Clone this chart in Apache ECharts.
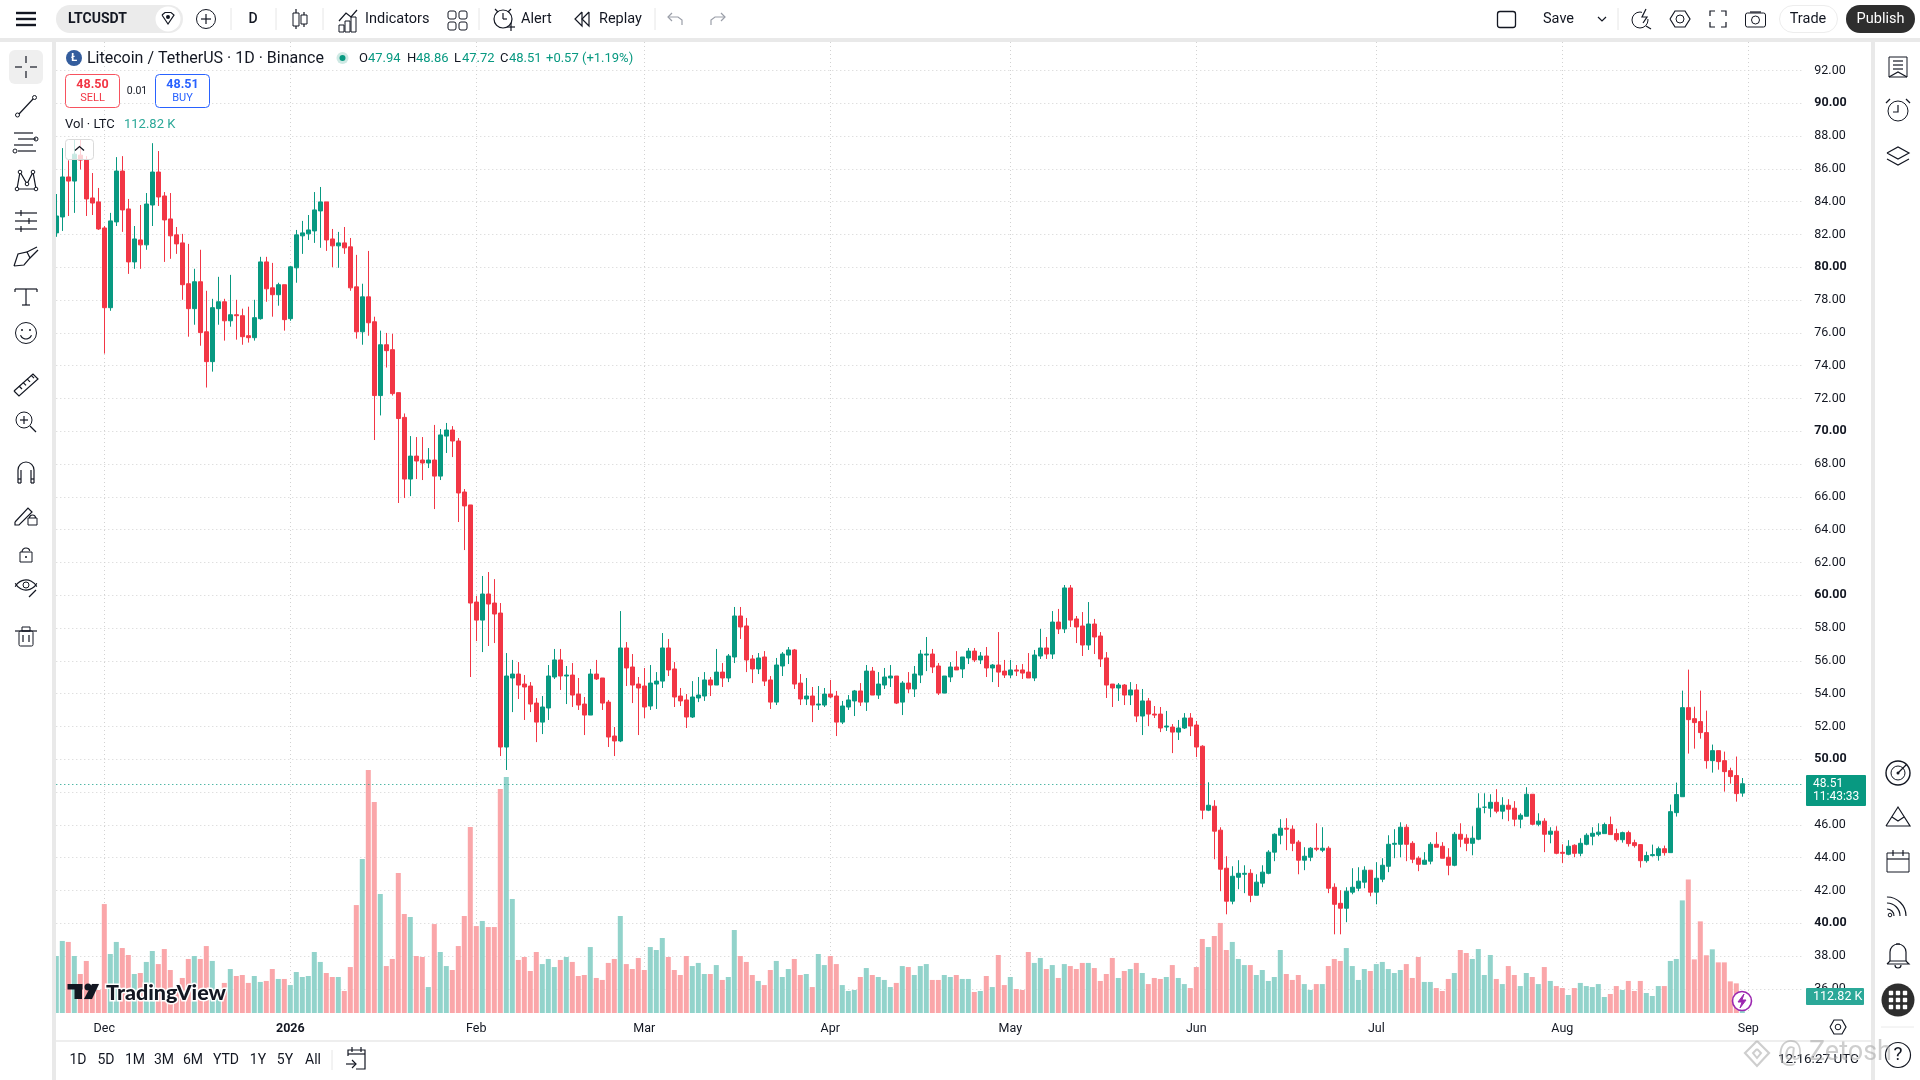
<!DOCTYPE html>
<html><head><meta charset="utf-8"><style>html,body{margin:0;padding:0;background:#fff}#c{width:1920px;height:1080px}</style>
<script src="https://cdn.jsdelivr.net/npm/echarts@6/dist/echarts.min.js"></script></head><body><div id="c"></div><script>
const startDate='2025-11-23';
const opens=[82.10,83.07,85.51,85.26,86.84,86.54,84.23,83.99,82.40,77.54,
82.77,85.87,83.56,80.33,81.67,81.37,83.80,85.81,84.35,82.95,
81.98,81.49,79.00,77.48,79.12,76.07,74.25,77.48,77.90,76.74,
77.11,77.05,75.83,75.71,76.87,80.33,78.75,78.33,78.94,76.87,
79.97,81.92,82.04,82.22,83.44,83.99,81.73,81.31,81.49,81.25,
78.81,76.07,78.20,76.68,72.18,75.28,74.98,72.36,70.85,67.09,
68.49,68.25,68.07,68.25,67.27,69.71,70.08,69.41,66.30,65.51,
59.59,58.49,60.08,59.53,58.92,50.75,54.96,55.20,54.59,54.47,
53.43,52.27,53.13,55.02,56.06,55.08,55.14,53.98,53.37,52.70,
55.20,54.96,53.49,51.42,51.12,56.79,55.63,54.59,54.47,53.25,
54.59,54.77,56.79,55.51,53.86,53.62,52.58,53.74,53.86,54.84,
54.53,55.32,54.96,56.24,58.74,58.13,56.12,55.51,56.24,54.84,
53.49,55.69,56.36,56.67,54.65,53.68,53.86,53.31,53.31,53.98,
53.86,52.27,53.19,53.56,54.17,53.49,55.38,53.92,54.53,54.96,
55.08,53.49,54.65,54.29,55.14,56.36,56.42,55.69,54.04,55.02,
55.63,55.51,56.18,56.60,56.06,56.30,55.57,55.75,55.38,55.14,
55.45,55.45,55.32,54.96,56.30,56.79,56.42,58.37,57.95,60.45,
58.56,58.13,56.97,58.25,57.52,56.18,54.59,54.35,54.53,53.92,
54.23,52.64,53.56,52.76,52.76,51.97,51.97,51.66,51.91,52.52,
52.09,50.80,46.90,47.14,45.68,43.36,41.35,42.81,42.99,43.05,
41.71,42.45,43.05,44.34,45.37,45.80,45.74,44.95,43.85,44.03,
44.58,44.46,44.58,42.20,41.22,40.92,41.90,42.14,42.51,43.24,
41.90,42.69,43.48,44.82,44.82,45.86,44.88,43.97,43.60,43.79,
44.82,44.70,44.03,43.54,45.43,45.19,44.88,45.13,47.08,47.02,
47.38,46.84,47.20,47.02,46.35,46.53,47.87,46.04,46.23,45.43,
45.62,44.33,44.21,44.76,44.27,44.82,45.31,45.43,45.47,46.02,
45.47,45.10,45.53,44.92,44.80,43.82,44.13,44.13,44.55,44.31,
46.75,47.72,53.15,52.48,52.30,51.63,49.92,50.53,49.92,49.31,
49.01,47.94];
const closes=[83.13,85.51,85.26,86.90,86.54,84.17,83.92,82.34,77.54,82.83,
85.87,83.50,80.33,81.73,81.37,83.86,85.81,84.29,82.89,81.92,
81.43,78.94,77.48,79.12,76.02,74.25,77.54,77.90,76.74,77.11,
77.05,75.77,75.71,76.93,80.33,78.69,78.33,78.94,76.81,80.03,
81.98,82.10,82.28,83.50,83.99,81.67,81.31,81.49,81.19,78.75,
76.07,78.20,76.62,72.18,75.28,74.92,72.30,70.78,67.09,68.49,
68.19,68.07,68.25,67.27,69.78,70.08,69.41,66.24,65.45,59.53,
58.49,60.08,59.47,58.86,50.75,55.08,55.20,54.53,54.41,53.37,
52.27,53.19,55.08,56.06,55.08,55.14,53.92,53.31,52.70,55.20,
54.90,53.43,51.36,51.12,56.79,55.57,54.53,54.35,53.19,54.65,
54.77,56.79,55.45,53.80,53.56,52.58,53.80,53.92,54.84,54.53,
55.32,54.96,56.30,58.74,58.07,56.06,55.51,56.18,54.77,53.49,
55.75,56.42,56.67,54.59,53.68,53.86,53.31,53.37,53.98,53.80,
52.27,53.25,53.62,54.17,53.49,55.38,53.92,54.59,55.02,55.08,
53.43,54.65,54.29,55.20,56.42,56.42,55.63,54.04,55.08,55.63,
55.45,56.24,56.60,56.06,56.30,55.57,55.75,55.32,55.14,55.45,
55.38,55.26,54.96,56.36,56.79,56.42,58.37,57.95,60.45,58.49,
58.07,56.97,58.25,57.46,56.12,54.53,54.35,54.53,53.92,54.23,
52.64,53.56,52.76,52.70,51.91,52.03,51.66,51.91,52.52,52.03,
50.75,46.90,47.20,45.62,43.30,41.35,42.87,43.05,43.05,41.71,
42.51,43.12,44.34,45.43,45.80,45.74,44.88,43.85,44.09,44.58,
44.52,44.58,42.14,41.16,40.92,41.96,42.20,42.57,43.24,41.90,
42.75,43.54,44.82,44.88,45.86,44.82,43.91,43.60,43.85,44.82,
44.64,43.97,43.54,45.43,45.13,44.88,45.19,47.02,47.08,47.38,
46.84,47.20,46.96,46.35,46.59,47.87,46.04,46.23,45.43,45.62,
44.27,44.27,44.70,44.27,44.88,45.37,45.49,45.56,46.02,45.41,
45.10,45.53,44.86,44.74,43.82,44.13,44.19,44.55,44.31,46.81,
47.85,53.15,52.42,52.24,51.63,49.92,50.53,49.86,49.25,48.95,
47.91,48.51];
const highs=[84.47,87.27,86.52,87.80,87.80,86.78,85.75,84.84,82.52,83.32,
86.72,86.78,84.17,82.52,83.80,84.53,87.57,87.09,84.59,84.53,
82.46,82.04,81.43,79.91,81.07,78.57,78.08,79.42,78.08,79.54,
78.02,77.48,77.60,78.02,80.64,80.64,80.27,79.06,78.94,80.09,
82.28,82.83,83.19,84.59,84.90,83.99,82.34,82.16,82.46,81.79,
80.76,79.00,81.00,76.99,76.14,76.00,75.95,72.36,71.09,69.71,
69.65,69.65,68.98,70.39,70.14,70.51,70.32,69.59,66.48,65.51,
59.96,61.18,61.42,60.99,59.53,56.48,56.06,55.93,55.14,54.71,
53.74,53.86,55.75,56.73,56.73,55.69,55.87,54.96,53.80,55.51,
56.06,54.96,53.62,51.97,59.04,57.15,56.42,55.02,55.57,55.75,
55.32,57.70,57.34,55.93,54.35,53.98,54.77,55.02,55.32,55.02,
56.73,55.87,56.42,59.29,59.29,58.62,56.36,56.48,56.60,55.08,
56.18,56.54,56.85,56.73,55.20,54.96,54.41,54.47,54.35,54.84,
54.17,53.56,53.92,54.23,54.65,55.75,55.63,55.32,55.57,55.75,
55.08,54.77,55.32,55.69,56.67,57.46,56.73,55.87,55.08,55.93,
56.60,56.24,56.79,56.79,56.54,56.85,55.81,57.76,56.06,56.06,
55.75,55.81,56.48,56.67,57.95,57.46,59.04,59.17,60.63,60.63,
58.74,58.98,59.59,58.56,57.76,56.54,54.59,54.65,54.59,54.71,
54.59,54.29,53.74,53.25,53.19,52.95,52.15,52.40,52.82,52.82,
52.34,50.86,48.60,47.51,45.86,44.09,43.48,43.85,43.54,43.30,
42.99,43.54,44.46,45.49,46.35,46.41,45.98,45.07,44.64,44.64,
46.10,45.86,44.70,42.44,42.02,42.20,43.36,43.42,43.48,43.24,
43.73,43.97,45.37,45.74,46.16,46.04,45.01,44.09,44.34,44.95,
45.56,44.95,44.58,45.56,46.10,45.43,45.92,47.93,47.93,47.87,
48.18,47.69,47.57,47.45,46.71,48.30,47.87,46.71,46.41,45.86,
45.92,44.82,45.07,44.82,45.19,45.49,45.86,46.10,46.14,46.51,
45.77,45.59,45.65,45.10,44.80,44.37,44.80,44.68,44.74,47.24,
48.58,54.19,55.47,53.21,54.19,52.97,50.90,50.53,50.47,49.49,
50.17,48.86];
const lows=[81.86,82.22,83.13,83.32,85.97,83.13,83.19,82.28,74.74,77.35,
82.52,82.16,79.60,79.91,79.91,81.07,82.52,83.74,80.33,80.52,
80.82,78.02,75.77,76.50,75.22,72.67,73.64,76.50,75.53,76.38,
75.59,75.28,75.41,75.53,76.81,77.90,76.99,77.66,76.14,76.74,
79.06,80.82,81.67,81.49,81.19,81.00,80.01,79.97,80.82,78.57,
75.65,75.28,75.83,69.47,70.97,73.89,72.18,65.63,65.93,66.05,
67.09,67.03,67.76,65.26,67.03,68.68,68.43,64.47,62.76,55.02,
57.21,56.54,56.91,57.09,50.20,49.35,52.88,53.68,52.40,52.88,
51.05,51.54,52.40,54.90,54.23,53.37,53.19,53.01,51.48,52.70,
54.84,53.01,50.75,50.20,51.05,54.47,53.43,51.48,52.52,53.01,
53.07,54.35,55.08,53.19,53.25,51.91,52.52,53.49,53.56,53.86,
54.53,54.41,54.71,55.87,57.34,55.32,54.65,55.20,54.47,53.07,
53.31,55.08,55.81,54.29,53.31,53.31,52.27,53.01,53.19,53.74,
51.42,52.15,53.01,52.64,53.25,52.95,53.92,53.68,54.29,54.41,
53.37,52.70,54.04,53.80,54.65,55.38,55.26,53.92,54.04,54.71,
55.45,54.96,55.81,55.93,55.81,55.02,54.71,54.41,54.96,54.96,
55.08,54.90,54.96,54.77,56.12,56.12,56.12,57.64,57.70,58.07,
57.09,56.30,56.67,56.42,55.63,53.74,53.19,53.56,53.31,53.31,
52.27,51.48,52.03,52.52,51.66,51.73,50.38,51.18,51.85,51.42,
50.14,46.35,46.84,43.91,41.96,40.55,41.16,42.08,41.84,41.29,
41.71,42.20,42.99,43.79,44.82,44.46,44.40,42.99,43.24,43.79,
44.40,44.34,41.84,39.33,39.33,40.07,41.77,41.96,42.14,41.65,
41.16,42.51,43.12,43.97,44.03,43.79,43.67,43.18,43.58,43.60,
44.64,43.97,42.93,43.48,44.64,44.40,44.15,45.07,46.71,46.47,
46.71,46.35,46.23,45.92,45.80,46.53,45.98,45.92,44.34,44.88,
44.21,43.67,44.15,44.03,44.09,44.76,44.76,45.31,45.47,45.41,
44.98,44.92,44.68,44.62,43.40,43.70,44.07,43.82,44.13,44.31,
46.51,47.72,50.35,50.65,51.26,49.43,49.19,49.37,48.03,48.52,
47.42,47.72];
const volumesK=[402,508,501,402,275,367,162,162,768,416,
501,458,409,275,282,360,437,345,451,303,
162,247,381,402,381,472,367,162,212,310,
261,268,212,261,219,226,310,240,240,197,
289,254,261,430,360,282,254,254,155,324,
761,1086,1713,1488,839,331,381,987,698,677,
402,395,183,627,430,331,303,472,684,1311,
613,649,606,606,1579,1664,804,374,395,296,
430,345,381,324,374,395,360,261,268,465,
247,233,353,381,684,345,310,388,303,465,
444,529,395,303,268,402,331,353,275,275,
338,233,254,585,402,360,268,226,197,303,
367,254,310,381,268,275,183,416,338,402,
345,197,155,162,254,317,268,254,233,183,
212,331,324,268,331,345,233,233,268,254,
268,240,240,148,155,261,183,409,197,254,
169,162,430,353,388,310,338,247,345,331,
310,353,353,317,226,275,388,247,296,310,
353,282,204,247,240,254,338,247,204,176,
324,522,465,543,635,444,501,381,338,338,
268,303,226,254,444,275,233,268,204,162,
204,204,331,381,367,458,331,233,310,296,
345,360,310,282,303,345,247,395,219,219,
176,155,240,282,444,423,381,451,268,409,
240,204,331,268,190,282,254,204,324,226,
190,176,127,176,212,190,183,204,113,134,
190,162,226,155,226,141,120,190,190,367,
381,794,942,378,646,407,449,357,357,223,
209,112.82];
const lastPrice=48.51;
const tickNames={'2025-12-01':'Dec','2026-01-01':'2026','2026-02-01':'Feb','2026-03-01':'Mar','2026-04-01':'Apr','2026-05-01':'May','2026-06-01':'Jun','2026-07-01':'Jul','2026-08-01':'Aug','2026-09-01':'Sep'};
const rangeLabels=['1D','5D','1M','3M','6M','YTD','1Y','5Y','All'];
const rangeX=[78,106,135,164,193,226,258,285,313];

const F='Roboto,"Noto Sans",sans-serif', INK='#131722', UP='#089981', DN='#F23645';
const catCount=292, t0=Date.parse(startDate+'T00:00:00Z');
const categories=Array.from({length:catCount},(_,i)=>new Date(t0+i*864e5).toISOString().slice(0,10));
const candle=opens.map((o,i)=>[o,closes[i],lows[i],highs[i]]);
const vol=volumesK.map((v,i)=>({value:v,itemStyle:{color:closes[i]>=opens[i]?'#92D3CB':'#FAA6A9'}}));

const g=[];const Z=100;
const T=(x,y,s,o={})=>g.push({type:'text',z:o.z||Z,x,y,style:{text:s,fill:o.c||INK,font:`${o.w||400} ${o.s||14}px ${o.f||F}`,align:o.a||'left',verticalAlign:'middle',stroke:o.st,lineWidth:o.lw||0}});
const R=(x,y,w,h,o={})=>g.push({type:'rect',z:o.z||Z,shape:{x,y,width:w,height:h,r:o.r||0},style:{fill:o.f||'none',stroke:o.s||'none',lineWidth:o.l||1}});
const C=(x,y,r,o={})=>g.push({type:'circle',z:o.z||Z,shape:{cx:x,cy:y,r},style:{fill:o.f||'none',stroke:o.s||'none',lineWidth:o.l||1}});
const L=(x1,y1,x2,y2,s=INK,l=1.2)=>g.push({type:'line',z:Z,shape:{x1,y1,x2,y2},style:{stroke:s,lineWidth:l}});
const P=(pts,s=INK,l=1.2,f)=>g.push({type:f?'polygon':'polyline',z:Z,shape:{points:pts},style:{stroke:s,lineWidth:l,fill:f||'none'}});
const A=(x,y,r,a0,a1,s=INK,l=1.2)=>g.push({type:'arc',z:Z,shape:{cx:x,cy:y,r,startAngle:a0,endAngle:a1},style:{stroke:s,lineWidth:l,fill:'none'}});

// panels
R(0,0,1920,38,{f:'#fff'});R(0,38,1920,4,{f:'#E9E9E9'});
R(0,42,52,1038,{f:'#fff'});R(52,38,4,1042,{f:'#E9E9E9'});
R(1871,38,4,1042,{f:'#E9E9E9'});R(1875,42,45,1038,{f:'#fff'});
L(56,1041,1871,1041,'#E9E9E9',1.5);
// top bar left
[13,19,25].forEach(y=>L(16,y,36,y,INK,2.4));
R(56,5,127,28,{f:'#EBEBEB',r:14});C(168,19,12.5,{f:'#fff'});
T(68,19,'LTCUSDT',{w:700,s:14});
P([[162,15],[165,12.5],[171,12.5],[174,15],[168,24],[162,15]],INK,1.2);C(168,17,2,{f:INK});
C(206,19,9.5,{s:INK});L(201,19,211,19);L(206,14,206,24);
[231,276,323,479,655].forEach(x=>L(x,8,x,30,'#E6E6E6',1));
T(253,19,'D',{a:'center',s:14,w:500});
L(296,9,296,29);R(293,13,6,13,{s:INK,f:'#fff'});L(304,12,304,27);R(301,15,6,9,{s:INK,f:'#fff'});
P([[339,21],[346,13],[351,17],[357,10]]);R(339,25,5,7,{s:INK});R(345,21,5,11,{s:INK});R(351,17,5,15,{s:INK});
T(365,19,'Indicators',{s:14.5});
[[448,11],[459,11],[448,22],[459,22]].forEach(p=>R(p[0],p[1],8,8,{s:INK,r:2}));
A(503,19,9,0,6.283);L(503,13,503,19);L(503,19,507,19);L(495,9,498,12);L(511,9,508,12);L(507,27,515,27);L(511,23,511,31);
T(521,19,'Alert',{s:14.5});
P([[582,12],[575,19],[582,26],[582,12]]);P([[589,12],[582,19],[589,26],[589,12]]);
T(599,19,'Replay',{s:14.5});
P([[672,13],[668,17],[672,21]],'#9a9ea8');P([[668,17],[678,17],[682,20],[682,25]],'#9a9ea8');
P([[721,13],[725,17],[721,21]],'#9a9ea8');P([[725,17],[715,17],[711,20],[711,25]],'#9a9ea8');
// top bar right
R(1497.5,11.5,18,16,{s:INK,r:2.5,l:1.3});
T(1543,19,'Save',{s:14.5});P([[1598,17],[1602,21],[1606,17]],INK,1.2);
L(1618,8,1618,30,'#E6E6E6',1);
C(1640,20,8,{s:INK});R(1642,7,8,12,{f:'#fff'});P([[1646,9],[1642,17],[1647,17],[1643,23]]);L(1646,26,1651,29);
P([[1670,19],[1675,11],[1685,11],[1690,19],[1685,27],[1675,27],[1670,19]]);C(1680,19,4,{s:INK});
[[1710,11,1,1],[1726,11,-1,1],[1710,27,1,-1],[1726,27,-1,-1]].forEach(a=>P([[a[0],a[1]+a[3]*5],[a[0],a[1]],[a[0]+a[2]*5,a[1]]]));
R(1745.5,13,20,14,{s:INK,r:2});C(1755.5,20,4,{s:INK});L(1750,12,1761,12);
R(1779.5,5.5,58,27,{f:'#fff',s:'#EDEDED',r:13.5});T(1808,19,'Trade',{a:'center',s:14.5});
R(1846,5,69,28,{f:'#2E2E2E',r:14});T(1880.5,19,'Publish',{a:'center',c:'#fff',s:14.5});
// left tools
R(9,50,34,34,{f:'#EFEFEF',r:6});
L(26,56,26,63);L(26,71,26,78);L(15,67,22,67);L(30,67,37,67);
L(19,114,33,99);C(17.5,115,2,{s:INK});C(34.5,97.5,2,{s:INK});
[133,139,145,151].forEach((y,i)=>L(14+(i==1||i==3?4:0),y,36-(i==0||i==2?3:0),y));C(36,139,2,{s:INK});C(15,151,2,{s:INK});
P([[17,189],[20,172],[27,184],[33,172],[36,189],[17,189]]);[[17,189],[20,172],[33,172],[36,189],[27,184]].forEach(p=>C(p[0],p[1],1.8,{f:'#fff',s:INK}));
L(15,213,37,213);L(15,221,37,221);L(15,229,37,229);L(21,210,21,216);L(29,218,29,224);L(21,226,21,232);
P([[14,266],[18,254],[27,252],[30,258],[24,265],[14,266]]);L(27,252,37,247);L(30,258,38,250);
L(15,289,37,289);L(26,289,26,305);L(15,289,15,292);L(37,289,37,292);L(22,305,30,305);
C(26,333,10.5,{s:INK});C(22,330,1,{f:INK});C(30,330,1,{f:INK});A(26,333,6,0.4,2.74);
P([[14,391],[33,374],[38,379],[19,396],[14,391]]);[0,1,2,3].forEach(i=>L(19+i*4,386-i*3.6,22+i*4,389-i*3.6));
C(24,420,8,{s:INK});L(20,420,28,420);L(24,416,24,424);L(30,426,36,432);
A(26,470,8,3.14,6.28);L(18,470,18,483);L(34,470,34,483);L(21,470,21,483);L(31,470,31,483);L(18,479,21,479);L(31,479,34,479);L(18,483,21,483);L(31,483,34,483);
P([[15,522],[28,508],[32,512],[19,525],[15,525],[15,522]]);R(28,518,9,7,{s:INK});A(32.5,518,3,3.14,6.28);
R(20,552,12,10,{s:INK});A(26,552,4,3.14,6.0);C(26,557,1,{f:INK});
A(26,592,12,3.6,5.82);A(26,578,12,0.46,2.68);C(26,585,3,{s:INK});L(29,597,36,590);
L(15,631,37,631);R(19,631,14,15,{s:INK,r:1.5});R(22,627,8,4,{s:INK});L(23,635,23,642);L(29,635,29,642);
// right tools
const X=1898;
R(X-9,57,18,20,{s:INK});P([[X-9,77],[X,72],[X+9,77]],INK);[61,65,69].forEach(y=>L(X-5,y,X+5,y));
C(X,111,10,{s:INK});P([[X,105],[X,112],[X-5,112]]);L(X-12,103,X-8,99);L(X+12,103,X+8,99);
P([[X-11,153],[X,147],[X+11,153],[X,159],[X-11,153]]);P([[X-11,159],[X,165],[X+11,159]]);
C(X,773,12,{s:INK,l:1.4});C(X,773,7,{s:INK});L(X,773,X+9,764);C(X,773,1.5,{f:INK});
P([[X-12,826],[X,807],[X+12,826],[X-12,826]]);P([[X-6,817],[X,821],[X+6,817]]);
R(X-11,853,22,19,{s:INK});L(X-11,859,X+11,859);L(X-5,850,X-5,856);L(X+5,850,X+5,856);
C(X-8,915,1.8,{s:INK});A(X-11,916,7,4.71,6.28);A(X-11,916,13,4.71,6.28);A(X-11,916,19,4.71,6.28);
A(X,952,8,3.14,6.28);L(X-8,952,X-8,961);L(X+8,952,X+8,961);P([[X-11,964],[X-8,961],[X+8,961],[X+11,964],[X-11,964]]);L(X-2,944,X+2,944);A(X,965,3,0,3.14);
C(X,1000,16.5,{f:'#2E2E2E'});[-7,0,7].forEach(a=>[-7,0,7].forEach(b=>R(X+a-2.2,1000+b-2.2,4.4,4.4,{f:'#fff',r:.8})));
L(1881,1027,1914,1027,'#EAEAEA',1);
C(X,1055,12.5,{s:INK,l:1.2});T(X,1055,'?',{a:'center',s:19});
// legend
C(74,58,8,{f:'#345D9D'});T(74,58,'Ł',{a:'center',c:'#fff',w:700,s:11});
T(87,59,'Litecoin / TetherUS · 1D · Binance',{s:16,w:400});
C(342.5,58,6,{f:'#CFE9E4'});C(342.5,58,3,{f:UP});
[['O',359,368,'47.94'],['H',407,416,'48.86'],['L',454,462,'47.72'],['C',500,509,'48.51']].forEach(a=>{T(a[1],59,a[0],{s:13});T(a[2],59,a[3],{s:13,c:UP});});
T(546,59,'+0.57 (+1.19%)',{s:13,c:UP});
R(65.5,74.5,54,33,{f:'#fff',s:'#F7525F',r:4});T(92.5,85,'48.50',{a:'center',c:'#F23645',w:700,s:12.5});T(92.5,98,'SELL',{a:'center',c:'#F23645',s:11});
T(137,91,'0.01',{a:'center',s:10.5});
R(155.5,74.5,54,33,{f:'#fff',s:'#2962FF',r:4});T(182.5,85,'48.51',{a:'center',c:'#2962FF',w:700,s:12.5});T(182.5,98,'BUY',{a:'center',c:'#2962FF',s:11});
T(65,125,'Vol · LTC',{s:13});T(124,125,'112.82 K',{s:13,c:'#2BA898'});
R(65.5,139.5,28,20,{f:'rgba(255,255,255,.78)',s:'#DADADA',r:3});P([[75,150.5],[79.5,146.5],[84,150.5]],INK,1.3);
// price labels
R(1806,775,60,31,{f:UP,r:1});T(1813,784,'48.51',{c:'#fff',s:12});T(1813,797,'11:43:33',{c:'#fff',s:12});
R(1806,988,58,17,{f:'#2BA898',r:1});T(1813,997,'112.82 K',{c:'#fff',s:12.5});
// lightning badge
C(1742,1001,9.5,{f:'#fff',s:'#9C27B0',l:1.6});P([[1744,994],[1738,1002],[1742,1002],[1740,1008],[1746,1000],[1742,1000]],'#9C27B0',1,'#9C27B0');
// settings
P([[1830,1027],[1834,1020],[1842,1020],[1846,1027],[1842,1034],[1834,1034],[1830,1027]]);C(1838,1027,2.8,{s:INK});
// logo
R(67.5,984,15,5.5,{f:'#131722'});R(74.5,984,7.5,15,{f:'#131722'});C(88,987,3.5,{f:'#131722'});
P([[92,984],[99,984],[92,999],[84,999]],'#131722',0.1,'#131722');
T(106,993.5,'TradingView',{w:900,s:21.5,st:'#fff',lw:3,f:'Lato,Roboto,sans-serif',c:'#131722'});
// bottom bar
rangeLabels.forEach((s,i)=>T(rangeX[i],1060,s,{a:'center',s:14}));
L(332,1050,332,1070,'#E6E6E6',1);
P([[348,1056],[348,1050],[365,1050],[365,1069],[356,1069]]);L(348,1054,365,1054);L(352,1047,352,1052);L(361,1047,361,1052);L(346,1064,356,1064);P([[352,1060],[356,1064],[352,1068]]);
T(1778,1060,'12:16:27 UTC',{s:13.5});
// watermark
const wm='rgba(165,165,165,.55)';
P([[1757,1041],[1769,1053],[1757,1066],[1745,1053],[1757,1041]],wm,2.2);P([[1757,1049],[1761,1053],[1757,1058],[1753,1053],[1757,1049]],wm,2);
T(1778,1053,'@ Zetosh',{s:27,c:wm});

const opt={animation:false,backgroundColor:'#fff',
 grid:[{left:56.3,width:1746,top:37.73,height:984},{left:56.3,width:1746,top:42,height:971}],
 xAxis:[{type:'category',gridIndex:0,data:categories,boundaryGap:false,show:false},
  {type:'category',gridIndex:1,data:categories,boundaryGap:false,
   axisLine:{show:false},axisTick:{show:false},
   axisLabel:{color:INK,fontFamily:F,fontSize:12.5,margin:9,interval:(i,v)=>v in tickNames,
    formatter:v=>v==='2026-01-01'?'{b|2026}':(tickNames[v]||''),rich:{b:{fontWeight:700,fontSize:12.5,fontFamily:F,color:INK}}},
   splitLine:{show:true,interval:(i,v)=>v in tickNames,lineStyle:{color:'#D2D2D2',type:[1,3],width:1}}}],
 yAxis:[{type:'value',gridIndex:0,position:'right',min:34,max:94,interval:2,scale:true,
   axisLine:{show:false},axisTick:{show:false},
   splitLine:{show:true,showMinLine:false,showMaxLine:false,lineStyle:{color:'#D2D2D2',type:[1,3],width:1}},
   axisLabel:{showMinLabel:false,showMaxLabel:false,margin:12,color:INK,fontFamily:F,fontSize:12.5,
    formatter:v=>v%10===0?`{b|${v.toFixed(2)}}`:v.toFixed(2),rich:{b:{fontWeight:700,fontSize:12.5,fontFamily:F,color:INK}}}},
  {type:'value',gridIndex:1,min:0,max:6846,show:false}],
 series:[
  {type:'bar',name:'Vol',xAxisIndex:1,yAxisIndex:1,data:vol,barWidth:5,z:2,silent:true},
  {type:'candlestick',name:'LTCUSDT',xAxisIndex:0,yAxisIndex:0,data:candle,barWidth:5,z:3,silent:true,
   itemStyle:{color:UP,color0:DN,borderColor:UP,borderColor0:DN,borderWidth:1},
   markLine:{silent:true,symbol:'none',label:{show:false},data:[{yAxis:lastPrice}],lineStyle:{color:UP,type:[1,3],width:1},animation:false}}],
 graphic:{elements:g}};
echarts.init(document.getElementById('c')).setOption(opt);
</script></body></html>
